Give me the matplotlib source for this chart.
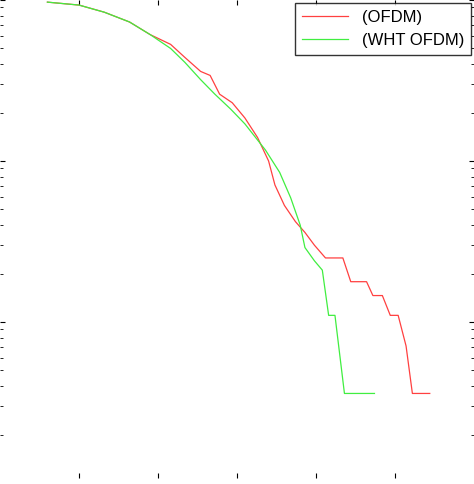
import numpy as np
import matplotlib.pyplot as plt

# values (x in SNR-like units 0..30, y log scale)
ofdm_x = [3.0, 5.0, 6.6, 8.2, 9.5, 10.8, 11.7, 12.7, 13.3, 13.9, 14.7, 15.5, 16.3, 17.0, 17.4, 18.0, 18.7, 19.3, 19.9, 20.6, 21.7, 22.2, 23.2, 23.6, 24.2, 24.7, 25.2, 25.7, 26.1, 27.2]
ofdm_y = [0.97, 0.93, 0.84, 0.73, 0.61, 0.53, 0.44, 0.36, 0.34, 0.26, 0.23, 0.185, 0.14, 0.10, 0.071, 0.053, 0.042, 0.036, 0.030, 0.025, 0.025, 0.0178, 0.0178, 0.0146, 0.0146, 0.011, 0.011, 0.0071, 0.0036, 0.0036]
wht_x = [3.0, 5.0, 6.6, 8.2, 9.5, 10.8, 11.7, 12.7, 13.6, 14.6, 15.5, 16.8, 17.7, 18.4, 19.0, 19.3, 19.9, 20.4, 20.8, 21.2, 21.8, 23.7]
wht_y = [0.97, 0.93, 0.84, 0.73, 0.61, 0.50, 0.41, 0.32, 0.26, 0.21, 0.17, 0.117, 0.085, 0.059, 0.040, 0.029, 0.024, 0.021, 0.011, 0.011, 0.0036, 0.0036]

plt.rcParams['font.family'] = ['Liberation Sans', 'DejaVu Sans']
fig = plt.figure(figsize=(4.74, 4.84), dpi=100)
ax = fig.add_axes([0, 0.012, 1, 0.988])
ax.semilogy(ofdm_x, ofdm_y, color='#ff4040', linewidth=0.9, label='(OFDM)')
ax.semilogy(wht_x, wht_y, color='#40ee40', linewidth=0.9, label='(WHT OFDM)')
ax.set_xlim(0, 30)
ax.set_ylim(10 ** -2.97, 1)
ax.set_xticks([5, 10, 15, 20, 25])
for s in ax.spines.values():
    s.set_visible(False)
ax.tick_params(which='both', direction='in', top=True, right=True,
               labelbottom=False, labelleft=False)
ax.legend(loc='upper right', fancybox=False, edgecolor='black', fontsize=12,
          handlelength=2.8, borderaxespad=0.2)
fig.savefig('out.png')
